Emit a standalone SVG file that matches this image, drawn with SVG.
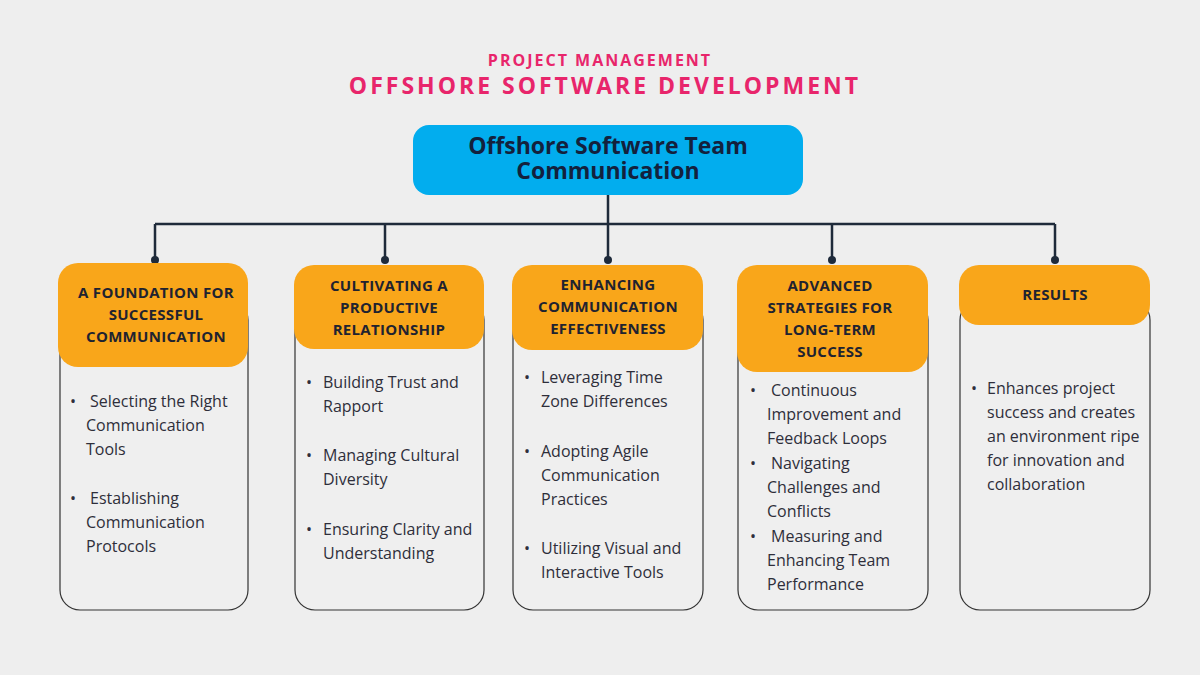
<svg xmlns="http://www.w3.org/2000/svg" width="1200" height="675" viewBox="0 0 1200 675">
<style>
.t1{font-family:"Open Sans","Liberation Sans",sans-serif;font-weight:700;fill:#e8256b;text-anchor:middle}
.hd{font-family:"Open Sans","Liberation Sans",sans-serif;font-weight:700;font-size:15px;fill:#1f2330;text-anchor:middle;letter-spacing:0.3px}
.tx{font-family:"Open Sans","Liberation Sans",sans-serif;font-size:16px;fill:#2e2e3a}
.card{fill:#efefef;stroke:#333;stroke-width:1.2}
.hb{fill:#f9a61a}
.ln{stroke:#1e2a3a;stroke-width:2.5;fill:none}
</style>
<rect width="1200" height="675" fill="#eeeeee"/>
<text class="t1" x="600" y="66" font-size="16" letter-spacing="2">PROJECT MANAGEMENT</text>
<text class="t1" x="605" y="94" font-size="23" letter-spacing="3">OFFSHORE SOFTWARE DEVELOPMENT</text>
<g id="root">
<rect x="413" y="125" width="390" height="70" rx="16" fill="#02adee"/>
<text x="608" y="154" font-family="'Open Sans','Liberation Sans',sans-serif" font-weight="700" font-size="23" fill="#13213d" text-anchor="middle">Offshore Software Team</text>
<text x="608" y="179" font-family="'Open Sans','Liberation Sans',sans-serif" font-weight="700" font-size="23" fill="#13213d" text-anchor="middle">Communication</text>
</g>
<g id="connectors">
<path class="ln" d="M608 195V224M155 224H1055M155 224V260M385 224V260M608 224V260M832 224V260M1055 224V260"/>
<g fill="#1e2a3a"><circle cx="155" cy="260" r="4"/><circle cx="385" cy="260" r="4"/><circle cx="608" cy="260" r="4"/><circle cx="832" cy="260" r="4"/><circle cx="1055" cy="260" r="4"/></g>
</g>
<g id="col1">
<rect class="card" x="60" y="300" width="188" height="310" rx="20"/>
<rect class="hb" x="58" y="263" width="190" height="104" rx="20"/>
<text class="hd" x="156" y="298">A FOUNDATION FOR</text><text class="hd" x="156" y="320">SUCCESSFUL</text><text class="hd" x="156" y="342">COMMUNICATION</text>
<text class="tx"><tspan x="70" y="407">•</tspan><tspan x="90" y="407">Selecting the Right</tspan><tspan x="86" y="431">Communication</tspan><tspan x="86" y="455">Tools</tspan><tspan x="70" y="504">•</tspan><tspan x="90" y="504">Establishing</tspan><tspan x="86" y="528">Communication</tspan><tspan x="86" y="552">Protocols</tspan></text>
</g>
<g id="col2">
<rect class="card" x="295" y="300" width="189" height="310" rx="20"/>
<rect class="hb" x="294" y="265" width="190" height="84" rx="20"/>
<text class="hd" x="389" y="291">CULTIVATING A</text><text class="hd" x="389" y="313">PRODUCTIVE</text><text class="hd" x="389" y="335">RELATIONSHIP</text>
<text class="tx"><tspan x="306" y="388">•</tspan><tspan x="323" y="388">Building Trust and</tspan><tspan x="323" y="412">Rapport</tspan><tspan x="306" y="461">•</tspan><tspan x="323" y="461">Managing Cultural</tspan><tspan x="323" y="485">Diversity</tspan><tspan x="306" y="535">•</tspan><tspan x="323" y="535">Ensuring Clarity and</tspan><tspan x="323" y="559">Understanding</tspan></text>
</g>
<g id="col3">
<rect class="card" x="513" y="300" width="190" height="310" rx="20"/>
<rect class="hb" x="512" y="265" width="191" height="85" rx="20"/>
<text class="hd" x="608" y="290">ENHANCING</text><text class="hd" x="608" y="312">COMMUNICATION</text><text class="hd" x="608" y="334">EFFECTIVENESS</text>
<text class="tx"><tspan x="524" y="383">•</tspan><tspan x="541" y="383">Leveraging Time</tspan><tspan x="541" y="407">Zone Differences</tspan><tspan x="524" y="457">•</tspan><tspan x="541" y="457">Adopting Agile</tspan><tspan x="541" y="481">Communication</tspan><tspan x="541" y="505">Practices</tspan><tspan x="524" y="554">•</tspan><tspan x="541" y="554">Utilizing Visual and</tspan><tspan x="541" y="578">Interactive Tools</tspan></text>
</g>
<g id="col4">
<rect class="card" x="738" y="300" width="190" height="310" rx="20"/>
<rect class="hb" x="737" y="265" width="191" height="107" rx="20"/>
<text class="hd" x="830" y="291">ADVANCED</text><text class="hd" x="830" y="313">STRATEGIES FOR</text><text class="hd" x="830" y="335">LONG-TERM</text><text class="hd" x="830" y="357">SUCCESS</text>
<text class="tx"><tspan x="750" y="396">•</tspan><tspan x="771" y="396">Continuous</tspan><tspan x="767" y="420">Improvement and</tspan><tspan x="767" y="444">Feedback Loops</tspan><tspan x="750" y="469">•</tspan><tspan x="771" y="469">Navigating</tspan><tspan x="767" y="493">Challenges and</tspan><tspan x="767" y="517">Conflicts</tspan><tspan x="750" y="542">•</tspan><tspan x="771" y="542">Measuring and</tspan><tspan x="767" y="566">Enhancing Team</tspan><tspan x="767" y="590">Performance</tspan></text>
</g>
<g id="col5">
<rect class="card" x="960" y="300" width="190" height="310" rx="20"/>
<rect class="hb" x="959" y="265" width="191" height="60" rx="20"/>
<text class="hd" x="1055" y="300">RESULTS</text>
<text class="tx"><tspan x="971" y="394">•</tspan><tspan x="987" y="394">Enhances project</tspan><tspan x="987" y="418">success and creates</tspan><tspan x="987" y="442">an environment ripe</tspan><tspan x="987" y="466">for innovation and</tspan><tspan x="987" y="490">collaboration</tspan></text>
</g>
</svg>
